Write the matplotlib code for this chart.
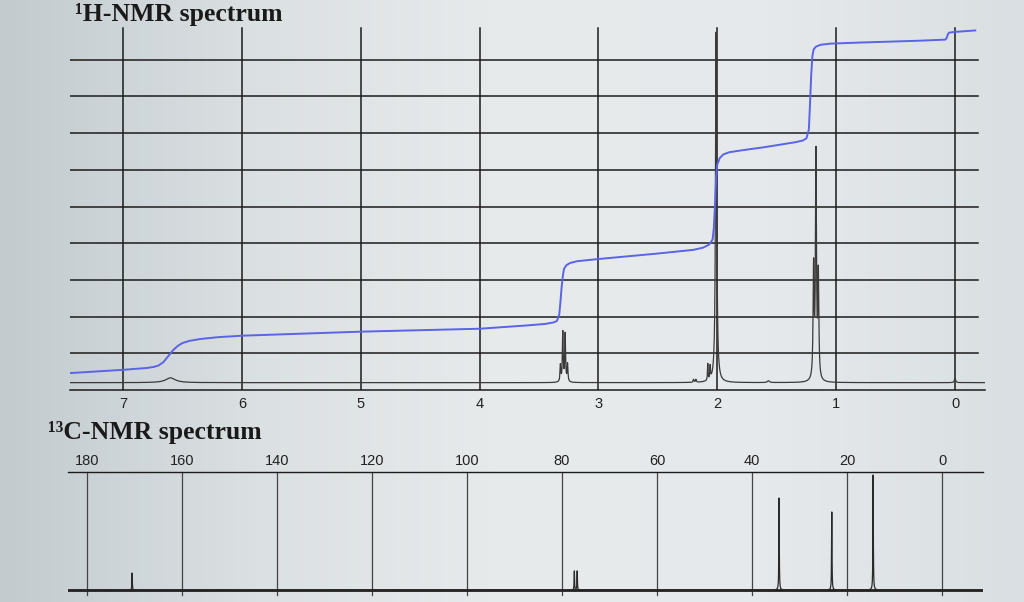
import numpy as np
import matplotlib.pyplot as plt
from matplotlib.colors import LinearSegmentedColormap

W, H = 1024, 602

# 1H spectrum: ppm axis, peaks (ppm, height in grid units, half-width)
h_ticks = [7, 6, 5, 4, 3, 2, 1, 0]
h_peak_ppm = [6.60, 3.32, 3.30, 3.28, 3.26, 2.20, 2.18, 2.08, 2.06, 2.01, 1.57, 1.19, 1.17, 1.15, 0.00]
h_peak_height = [0.13, 0.45, 1.35, 1.30, 0.48, 0.08, 0.08, 0.45, 0.35, 9.55, 0.05, 3.0, 6.1, 2.8, 0.12]
h_peak_width = [0.05, 0.004, 0.004, 0.004, 0.004, 0.004, 0.004, 0.003, 0.003, 0.006, 0.01, 0.005, 0.005, 0.005, 0.006]

# integral trace (ppm, grid units)
int_ppm = [7.45, 7.0, 6.80, 6.74, 6.70, 6.66, 6.62, 6.58, 6.54, 6.50, 6.44, 6.35, 6.2, 6.0,
           5.0, 4.0, 3.6, 3.45, 3.38, 3.35, 3.33, 3.32, 3.31, 3.30, 3.29, 3.27, 3.24, 3.18,
           3.0, 2.5, 2.2, 2.12, 2.07, 2.04, 2.03, 2.02, 2.01, 2.0, 1.98, 1.95, 1.9, 1.8,
           1.6, 1.35, 1.28, 1.25, 1.23, 1.22, 1.21, 1.20, 1.19, 1.17, 1.13, 1.05, 0.8,
           0.3, 0.08, 0.07, 0.06, 0.05, 0.0, -0.17]
int_val = [0.46, 0.55, 0.60, 0.63, 0.67, 0.76, 0.92, 1.08, 1.20, 1.28, 1.34, 1.39, 1.44, 1.48,
           1.59, 1.67, 1.76, 1.80, 1.84, 1.88, 2.05, 2.4, 2.8, 3.1, 3.3, 3.40, 3.46, 3.51,
           3.57, 3.72, 3.82, 3.88, 3.96, 4.1, 4.4, 5.0, 5.8, 6.15, 6.32, 6.42, 6.48, 6.53,
           6.62, 6.75, 6.80, 6.86, 7.1, 7.8, 8.6, 9.1, 9.28, 9.36, 9.41, 9.44, 9.47,
           9.52, 9.55, 9.60, 9.70, 9.74, 9.76, 9.80]

# 13C spectrum: ppm axis, peaks (ppm, height in px)
c_ticks = [180, 160, 140, 120, 100, 80, 60, 40, 20, 0]
c_peak_ppm = [170.5, 77.4, 76.8, 34.3, 23.2, 14.5]
c_peak_height = [17, 19, 19, 92, 78, 115]


def lorentz_sum(x, centers, heights, widths):
    y = np.zeros_like(x)
    for c, h, w in zip(centers, heights, widths):
        y += h * w**2 / ((x - c)**2 + w**2)
    return y


def px_axes(fig, x0, y0, x1, y1):
    return fig.add_axes([x0 / W, 1 - y1 / H, (x1 - x0) / W, (y1 - y0) / H])


fig = plt.figure(figsize=(W / 100, H / 100), dpi=100)

# photo-like paper background
bg = fig.add_axes([0, 0, 1, 1])
paper = LinearSegmentedColormap.from_list(
    "paper", ["#c3cbcf", "#dbe0e2", "#e8ebec", "#e6e9eb", "#d9dfe2"])
bg.imshow(np.tile(np.linspace(0, 1, 256), (2, 1)), cmap=paper, aspect="auto", extent=[0, 1, 0, 1])
bg.set_axis_off()

num_font = ["Liberation Sans", "DejaVu Sans"]
title_font = ["Liberation Serif", "DejaVu Serif"]
ink = "#1c1c1c"

# ---- 1H panel ----
ax = px_axes(fig, 70, 22, 985, 390)
ax.set_xlim(7.446, -0.252)
ax.set_ylim(0, 10.03)
ax.patch.set_alpha(0)
for s in ["top", "left", "right"]:
    ax.spines[s].set_visible(False)
ax.spines["bottom"].set_color(ink)
ax.spines["bottom"].set_linewidth(1.1)

for g in range(1, 10):
    ax.axhline(g, xmin=0, xmax=0.992, color=ink, lw=1.1)
for t in h_ticks:
    ax.axvline(t, ymin=0, ymax=0.985, color=ink, lw=1.1)

xs = np.arange(-0.25, 7.45, 0.0005)
spec = 0.2 + lorentz_sum(xs, h_peak_ppm, h_peak_height, h_peak_width)
ax.plot(xs, spec, color="#3a3a3a", lw=0.9)
ax.plot(int_ppm, int_val, color="#5b63e6", lw=1.4)

ax.set_xticks(h_ticks)
ax.set_xticklabels([str(t) for t in h_ticks], family=num_font, fontsize=10.5, color="#222")
ax.tick_params(axis="x", length=0, pad=5)
ax.set_yticks([])

fig.text(75 / W, 1 - 14 / H, "\u00b9H-NMR spectrum", family=title_font, fontweight="bold",
         fontsize=18.5, color="#1a1a1a", va="center", ha="left")

# ---- 13C panel ----
cx = px_axes(fig, 68, 472, 983, 600)
cx.set_xlim(184.0, -8.63)
cx.set_ylim(0, 128)
cx.patch.set_alpha(0)
for s in ["bottom", "left", "right"]:
    cx.spines[s].set_visible(False)
cx.spines["top"].set_color(ink)
cx.spines["top"].set_linewidth(1.0)

for t in c_ticks:
    cx.axvline(t, ymin=5 / 128, ymax=1, color="#444", lw=0.9)

cs = np.arange(-8.6, 184.0, 0.01)
cspec = 10 + lorentz_sum(cs, c_peak_ppm, c_peak_height, [0.05] * len(c_peak_ppm))
cx.axhline(10, color="#1e1e1e", lw=2.0)
cx.plot(cs, cspec, color="#2a2a2a", lw=0.9)

cx.xaxis.tick_top()
cx.set_xticks(c_ticks)
cx.set_xticklabels([str(t) for t in c_ticks], family=num_font, fontsize=10.5, color="#222")
cx.tick_params(axis="x", length=0, pad=3)
cx.set_yticks([])

fig.text(48 / W, 1 - 433 / H, "\u00b9\u00b3C-NMR spectrum", family=title_font, fontweight="bold",
         fontsize=18.5, color="#1a1a1a", va="center", ha="left")

fig.savefig("out.png", dpi=100)
